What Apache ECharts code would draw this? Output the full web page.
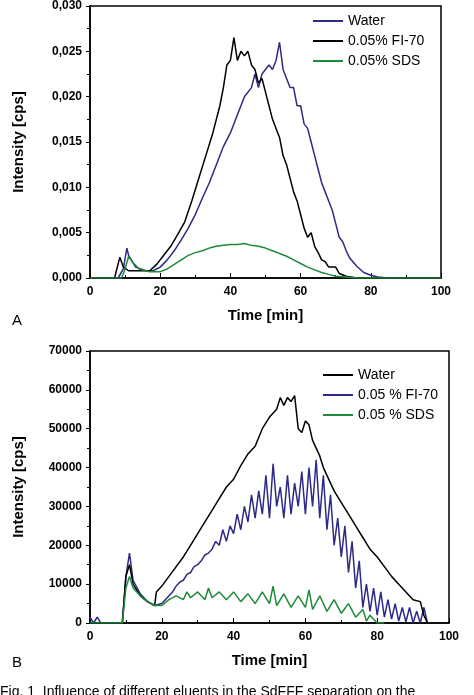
<!DOCTYPE html>
<html><head><meta charset="utf-8">
<script src="https://cdn.jsdelivr.net/npm/echarts@6/dist/echarts.min.js"></script>
<style>html,body{margin:0;background:#fff}#c{width:474px;height:695px}</style>
</head><body><div id="c"></div>
<script>
// Panel A: [time min, intensity]
const aWater = [[0,0],[8,0],[9.5,0.001],[10.5,0.0033],[11,0.0025],[13,0.0012],[16,0.0008],[18,0.0008],[20,0.0012],[22,0.002],[24,0.003],[26,0.0042],[28,0.0055],[30,0.007],[32,0.0088],[34,0.0105],[36,0.0125],[38,0.0145],[40,0.016],[42,0.018],[44,0.02],[46,0.021],[47,0.0225],[48,0.021],[49,0.0225],[50,0.023],[51,0.0235],[52,0.023],[53,0.024],[54,0.026],[55,0.023],[56,0.022],[57,0.021],[58,0.021],[59,0.019],[60,0.019],[61,0.017],[62,0.0165],[63,0.015],[64,0.0135],[65,0.012],[66,0.0105],[67,0.0095],[68,0.0085],[69,0.0075],[70,0.006],[71,0.0045],[72,0.004],[73,0.003],[74,0.0022],[76,0.0013],[78,0.0006],[80,0.0003],[82,0.0001],[85,0],[100,0]]
const aFi70 = [[0,0],[7,0],[8.5,0.0023],[9.5,0.0012],[11,0.0008],[14,0.0008],[17,0.0008],[19,0.0015],[21,0.0025],[23,0.0035],[25,0.0048],[27,0.0062],[29,0.0085],[31,0.011],[33,0.0135],[35,0.016],[37,0.019],[38,0.021],[39,0.0235],[40,0.024],[41,0.0265],[42,0.024],[43,0.025],[44,0.0245],[45,0.025],[46,0.0235],[47,0.023],[48,0.0215],[49,0.022],[50,0.0205],[51,0.019],[52,0.0175],[53,0.0165],[54,0.0155],[55,0.0135],[56,0.0125],[57,0.011],[58,0.0095],[59,0.0085],[60,0.007],[61,0.0055],[62,0.0045],[63,0.005],[64,0.0035],[65,0.0028],[66,0.002],[67,0.0018],[68,0.0012],[70,0.0012],[71,0.0005],[73,0.0002],[76,0],[100,0]]
const aSds = [[0,0],[9,0],[10,0.001],[11,0.0024],[12,0.0018],[14,0.001],[17,0.0007],[20,0.0007],[22,0.001],[24,0.0015],[26,0.002],[28,0.0025],[30,0.0028],[32,0.003],[34,0.0033],[36,0.0035],[38,0.0036],[40,0.0037],[42,0.0037],[44,0.0038],[46,0.0036],[48,0.0035],[50,0.0033],[52,0.003],[54,0.0027],[56,0.0024],[58,0.002],[60,0.0016],[62,0.0012],[64,0.0009],[66,0.0006],[68,0.0004],[70,0.0002],[73,0.0001],[76,0],[100,0]]
// Panel B
const bWater = [[0,0],[9,0],[10,12000],[11,15000],[12,10000],[14,7000],[16,5500],[18,4500],[18.5,8000],[20,9500],[22,12000],[24,14500],[26,17000],[28,20000],[30,23000],[32,26000],[34,29000],[36,32000],[38,35000],[40,37000],[42,40500],[44,43500],[46,45500],[48,50000],[50,53000],[52,55000],[53,58000],[54,56000],[55,58000],[56,57000],[57,58500],[58,50000],[59,49000],[60,52000],[61,51000],[62,47000],[63,45000],[64,43000],[65,40000],[66,38000],[68,34000],[70,31000],[72,28000],[74,25000],[76,22000],[78,19000],[80,17000],[82,14500],[84,12000],[86,10000],[88,8000],[90,6000],[92,5500],[93,2000],[94,0]]
const bFi70 = [[0,1500],[1,0],[2,1500],[3,0],[9,0],[10,12000],[11,18000],[12,11000],[14,7500],[16,5500],[18,4500],[20,5000],[22,7000],[23,8000],[24,9500],[25,10500],[26,11000],[27,12500],[28,13000],[29,14500],[30,15000],[31,16000],[32,17500],[33,18000],[34,19000],[35,21000],[36,20000],[37,24000],[38,21000],[39,25000],[40,23000],[41,28000],[42,24000],[43,30000],[44,26000],[45,33000],[46,27000],[47,34000],[48,28000],[49,38000],[50,27000],[51,41000],[52,30000],[53,35000],[54,27000],[55,38000],[56,28000],[57,36000],[58,30000],[59,39000],[60,28000],[61,40000],[62,30000],[63,42000],[64,27000],[65,38000],[66,24000],[67,33000],[68,20000],[69,27000],[70,17000],[71,25000],[72,13000],[73,21000],[74,9000],[75,16000],[76,4000],[77,10000],[78,3000],[79,9000],[80,2000],[81,8000],[82,1500],[83,6000],[84,1000],[85,5000],[86,500],[87,4000],[88,300],[89,4000],[90,0],[91,3000],[92,0],[93,4000],[94,0]]
const bSds = [[0,0],[9,0],[10,9000],[11,12000],[12,9000],[14,7000],[16,5500],[18,4500],[20,4500],[22,6000],[24,7000],[26,6000],[27,8000],[28,6500],[30,8000],[32,6000],[33,9000],[34,6500],[36,8000],[38,6000],[40,8000],[42,5500],[44,7500],[46,5000],[48,8000],[50,5000],[51,9500],[52,4500],[54,7500],[56,4000],[58,7000],[60,4000],[61,8500],[62,3500],[64,7000],[66,3000],[68,6000],[70,2500],[72,5000],[74,1500],[76,3500],[77,500],[78,2000],[80,0],[82,0]]

const BLUE = '#2e2a86', BLACK = '#000', GREEN = '#1f8a3a'
const F = 'Liberation Sans, Arial, sans-serif'

function xAx (gi) {
  return {
    type: 'value', gridIndex: gi, min: 0, max: 100, interval: 20,
    name: 'Time [min]', nameLocation: 'middle', nameGap: 30,
    nameTextStyle: {fontFamily: F, fontWeight: 'bold', fontSize: 15, color: '#000'},
    axisLine: {lineStyle: {color: '#000', width: 1.5}},
    axisTick: {inside: true, length: 5, lineStyle: {color: '#000'}},
    minorTick: {show: true, splitNumber: 2, length: 3, lineStyle: {color: '#000'}},
    axisLabel: {fontFamily: F, fontWeight: 'bold', fontSize: 12, color: '#000'},
    splitLine: {show: false}
  }
}
function yAx (gi, max, interval, fmt, gap) {
  return {
    type: 'value', gridIndex: gi, min: 0, max: max, interval: interval,
    name: 'Intensity [cps]', nameLocation: 'middle', nameGap: gap,
    nameTextStyle: {fontFamily: F, fontWeight: 'bold', fontSize: 15, color: '#000'},
    axisLine: {show: true, lineStyle: {color: '#000', width: 1.5}},
    axisTick: {inside: false, length: 4, lineStyle: {color: '#000'}},
    minorTick: {show: true, splitNumber: 2, length: 3, lineStyle: {color: '#000'}},
    axisLabel: {fontFamily: F, fontWeight: 'bold', fontSize: 12, color: '#000', formatter: fmt},
    splitLine: {show: false}
  }
}
function line (name, data, color, gi) {
  return {type: 'line', name: name, data: data, xAxisIndex: gi, yAxisIndex: gi,
    showSymbol: false, lineStyle: {color: color, width: 1.5}, itemStyle: {color: color}, animation: false}
}
const legendBase = {orient: 'vertical', icon: 'rect', itemWidth: 30, itemHeight: 2, itemGap: 6,
  textStyle: {fontFamily: F, fontSize: 14, color: '#000'}}

const chart = echarts.init(document.getElementById('c'))
chart.setOption({
  backgroundColor: '#fff',
  grid: [
    {left: 90, top: 6, width: 351, height: 272, show: true, borderColor: '#000', borderWidth: 1.5},
    {left: 90, top: 351, width: 359, height: 272, show: true, borderColor: '#000', borderWidth: 1.5}
  ],
  xAxis: [xAx(0), xAx(1)],
  yAxis: [
    yAx(0, 0.03, 0.005, v => v.toFixed(3).replace('.', ','), 64),
    yAx(1, 70000, 10000, v => String(v), 64)
  ],
  legend: [
    Object.assign({}, legendBase, {left: 308, top: 9, data: ['Water', '0.05% FI-70', '0.05% SDS']}),
    Object.assign({}, legendBase, {left: 318, top: 363, data: ['Water ', '0.05 % FI-70', '0.05 % SDS']})
  ],
  series: [
    line('Water', aWater, BLUE, 0),
    line('0.05% FI-70', aFi70, BLACK, 0),
    line('0.05% SDS', aSds, GREEN, 0),
    line('0.05 % FI-70', bFi70, BLUE, 1),
    line('Water ', bWater, BLACK, 1),
    line('0.05 % SDS', bSds, GREEN, 1)
  ],
  graphic: [
    {type: 'text', left: 12, top: 313, style: {text: 'A', font: '15px ' + F, fill: '#000'}},
    {type: 'text', left: 12, top: 655, style: {text: 'B', font: '15px ' + F, fill: '#000'}},
    {type: 'text', left: 0, top: 685, style: {text: 'Fig. 1  Influence of different eluents in the SdFFF separation on the', font: '14px ' + F, fill: '#000'}}
  ]
})
</script></body></html>
